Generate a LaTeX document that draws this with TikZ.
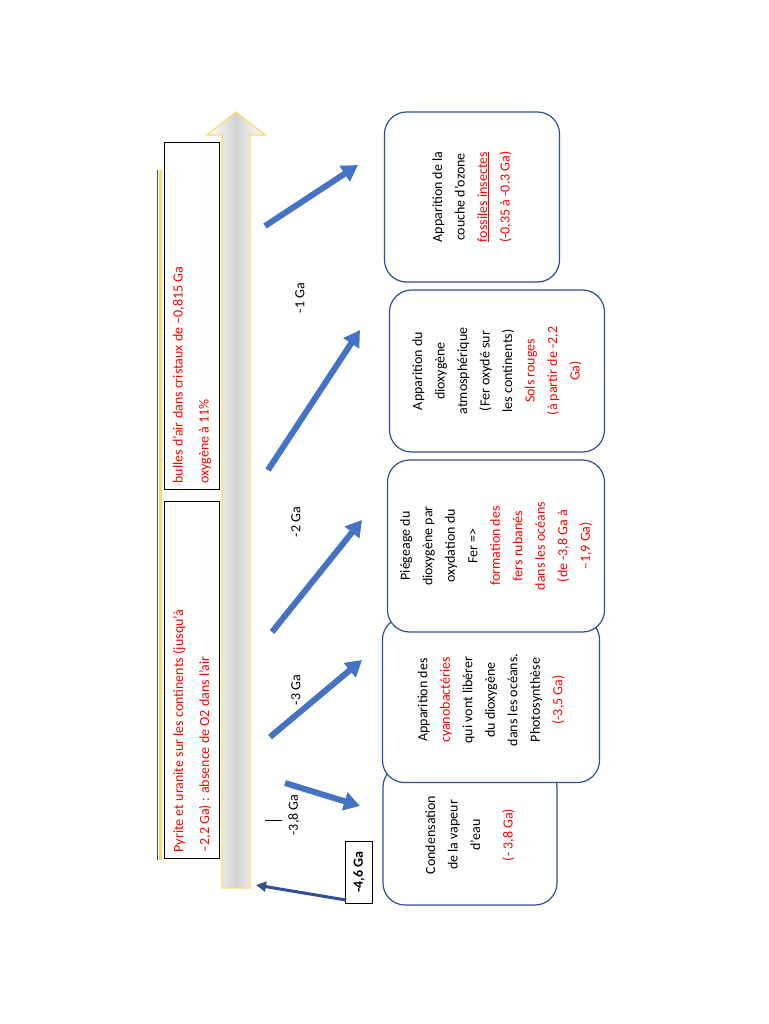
\documentclass[tikz,border=0pt]{standalone}
\usepackage{fontspec}
\setmainfont{Carlito}
\usetikzlibrary{arrows.meta}
\definecolor{myblue}{HTML}{4472C4}
\definecolor{boxblue}{HTML}{2F4F8F}
\definecolor{myyel}{HTML}{FFD966}
\begin{document}
\begin{tikzpicture}[x=1pt,y=-1pt,
  rbox/.style={draw=boxblue,line width=1.2pt,rounded corners=22pt,fill=white,rotate=90,align=center,font=\fontsize{14}{22.5}\selectfont,inner sep=0pt},
  tbox/.style={draw=black,line width=0.8pt,fill=white,rotate=90,align=flush left,font=\fontsize{14}{26}\selectfont,text=red,inner sep=6pt},
  barrow/.style={draw=myblue,line width=6pt,-{Triangle[length=16pt,width=18pt]}},
  lab/.style={rotate=90,font=\fontsize{14}{16}\selectfont}]
\useasboundingbox (0,0) rectangle (768,1024);
% big hollow arrow
\shade[left color=white,right color=white,middle color=gray!35,draw=myyel,line width=1.2pt]
  (222,888) -- (222,135) -- (207,135) -- (236,112) -- (265,135) -- (250,135) -- (250,888) -- cycle;
% side line
\draw[boxblue,line width=1pt] (157,170) -- (157,860);
\draw[myyel,line width=3pt] (160,170) -- (160,860);
% top boxes
\node[tbox,minimum width=357pt,minimum height=55pt,text width=345pt] (pyr) at (192,680) {Pyrite et uranite sur les continents (jusqu'à\\–2,2 Ga) : absence de O2 dans l'air};
\node[tbox,minimum width=347pt,minimum height=55pt,text width=335pt] (bul) at (192,316) {bulles d'air dans cristaux de –0,815 Ga\\oxygène à 11\%};
% -4,6 Ga
\node[draw=black,line width=0.8pt,fill=white,rotate=90,font=\bfseries\fontsize{14}{16}\selectfont,minimum width=62pt,minimum height=27pt,inner sep=2pt] (t46) at (359,872) {-4,6 Ga};
\coordinate (bot) at (256,885);
\coordinate (t46s) at (346,900);
\draw[draw=boxblue,line width=3pt,-{Triangle[length=10pt,width=10pt]}] (t46s) -- (bot);
% tick and labels
\coordinate (tk1) at (265,820); \coordinate (tk2) at (282,820);
\draw[line width=0.8pt] (tk1) -- (tk2);
\node[lab] (l38) at (294,815) {-3,8 Ga};
\node[lab] (l3) at (296,690) {-3 Ga};
\node[lab] (l2) at (296,522) {-2 Ga};
\node[lab] (l1) at (300,298) {-1 Ga};
% rounded boxes
\node[rbox,minimum width=140pt,minimum height=174pt] (b1) at (470,835) {Condensation\\de la vapeur\\d'eau\\[10pt]\textcolor{red}{(- 3,8 Ga)}};
\node[rbox,minimum width=165pt,minimum height=217pt] (b2) at (491,700) {Apparition des\\\textcolor{red}{cyanobactéries}\\qui vont libérer\\du dioxygène\\dans les océans.\\Photosynthèse\\\textcolor{red}{(-3,5 Ga)}};
\node[rbox,minimum width=172pt,minimum height=217pt] (b3) at (496,546) {Piégeage du\\dioxygène par\\oxydation du\\Fer =>\\\textcolor{red}{formation des}\\\textcolor{red}{fers rubanés}\\\textcolor{red}{dans les océans}\\\textcolor{red}{(de -3,8 Ga à}\\\textcolor{red}{–1,9 Ga)}};
\node[rbox,minimum width=162pt,minimum height=215pt] (b4) at (497,371) {Apparition du\\dioxygène\\atmosphérique\\(Fer oxydé sur\\les continents)\\\textcolor{red}{Sols rouges}\\\textcolor{red}{(à partir de -2,2}\\\textcolor{red}{Ga)}};
\node[rbox,minimum width=170pt,minimum height=175pt] (b5) at (472,197) {Apparition de la\\couche d'ozone\\\textcolor{red}{\underline{fossiles insectes}}\\\textcolor{red}{(-0,35 à -0.3 Ga)}};
% arrows
\coordinate (a1s) at (285,783); \coordinate (a1e) at (360,806);
\coordinate (a2s) at (270,737); \coordinate (a2e) at (362,660);
\coordinate (a3s) at (272,632); \coordinate (a3e) at (362,520);
\coordinate (a4s) at (268,470); \coordinate (a4e) at (360,330);
\coordinate (a5s) at (265,226); \coordinate (a5e) at (358,165);
\draw[barrow] (a1s) -- (a1e);
\draw[barrow] (a2s) -- (a2e);
\draw[barrow] (a3s) -- (a3e);
\draw[barrow] (a4s) -- (a4e);
\draw[barrow] (a5s) -- (a5e);
\end{tikzpicture}
\end{document}
